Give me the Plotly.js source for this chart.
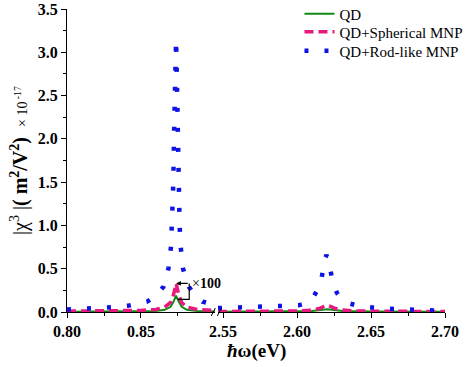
<!DOCTYPE html>
<html>
<head>
<meta charset="utf-8">
<script src="https://cdn.plot.ly/plotly-3.0.1.min.js"></script>
<style>html,body{margin:0;padding:0;background:#fff;}#chart{width:474px;height:367px;}</style>
</head>
<body>
<div id="chart"></div>
<script>
// ---- data ----
var seriesNames = ["QD", "QD+Spherical MNP", "QD+Rod-like MNP"];

// left segment (0.80 - 0.90 eV)
var qdXL = [0.800, 0.840, 0.860, 0.866, 0.870, 0.872, 0.8737, 0.8755, 0.8775, 0.881, 0.888, 0.900];
var qdYL = [0.004, 0.006, 0.012, 0.025, 0.06, 0.12, 0.19, 0.12, 0.06, 0.025, 0.012, 0.006];
var sphXL = [0.800, 0.830, 0.850, 0.860, 0.866, 0.870, 0.872, 0.8737, 0.8755, 0.8775, 0.881, 0.888, 0.900];
var sphYL = [0.010, 0.012, 0.018, 0.030, 0.055, 0.11, 0.20, 0.33, 0.20, 0.11, 0.055, 0.030, 0.018];
var rodXL = [0.800, 0.815, 0.830, 0.842, 0.854, 0.860, 0.8651, 0.8675, 0.8686, 0.8703, 0.8710, 0.8718, 0.8725, 0.8730, 0.8737, 0.8742, 0.8747, 0.8754, 0.8761, 0.8768, 0.8783, 0.8797, 0.8824, 0.8870, 0.8916, 0.900];
var rodYL = [0.030, 0.040, 0.055, 0.075, 0.12, 0.18, 0.29, 0.42, 0.51, 0.76, 1.00, 1.47, 2.20, 2.75, 3.15, 2.75, 2.20, 1.47, 1.00, 0.76, 0.51, 0.42, 0.29, 0.18, 0.12, 0.085];

// right segment (2.55 - 2.70 eV)
var qdXR = [2.5466, 2.600, 2.610, 2.616, 2.6205, 2.625, 2.631, 2.650, 2.700];
var qdYR = [0.003, 0.006, 0.012, 0.022, 0.032, 0.022, 0.012, 0.006, 0.003];
var sphXR = [2.5466, 2.580, 2.600, 2.610, 2.615, 2.618, 2.6205, 2.623, 2.626, 2.631, 2.640, 2.660, 2.700];
var sphYR = [0.006, 0.008, 0.012, 0.022, 0.040, 0.062, 0.078, 0.062, 0.040, 0.022, 0.012, 0.008, 0.006];
var rodXR = [2.5466, 2.558, 2.5716, 2.5863, 2.6009, 2.606, 2.611, 2.6145, 2.6167, 2.6189, 2.6200, 2.6218, 2.6241, 2.627, 2.6295, 2.635, 2.6426, 2.6568, 2.6707, 2.6843, 2.700];
var rodYR = [0.045, 0.050, 0.057, 0.065, 0.077, 0.10, 0.17, 0.28, 0.40, 0.62, 0.66, 0.56, 0.34, 0.22, 0.16, 0.10, 0.066, 0.042, 0.030, 0.020, 0.012];

var xTicksL = [0.80, 0.85];
var xMinorL = [0.825, 0.875];
var xTicksR = [2.55, 2.60, 2.65, 2.70];
var xMinorR = [2.575, 2.625, 2.675];

// ---- styles ----
var cGreen = "#138a13", cPink = "#e8197d", cBlue = "#0f12e6";
var serif = "Liberation Serif, Times New Roman, serif";
var lineQD = {color: cGreen, width: 2};
var lineSph = {color: cPink, width: 3.5, dash: "9px,5px"};
var lineRod = {color: cBlue, width: 4.5, dash: "4px,16px"};

var traces = [
  {x: qdXL, y: qdYL, xaxis: "x", yaxis: "y", mode: "lines", line: lineQD, name: seriesNames[0], legend: "legend"},
  {x: sphXL, y: sphYL, xaxis: "x", yaxis: "y", mode: "lines", line: lineSph, name: seriesNames[1], legend: "legend2"},
  {x: rodXL, y: rodYL, xaxis: "x", yaxis: "y", mode: "lines", line: lineRod, name: seriesNames[2], legend: "legend3"},
  {x: qdXR, y: qdYR, xaxis: "x2", yaxis: "y", mode: "lines", line: lineQD, name: seriesNames[0], showlegend: false},
  {x: sphXR, y: sphYR, xaxis: "x2", yaxis: "y", mode: "lines", line: lineSph, name: seriesNames[1], showlegend: false},
  {x: rodXR, y: rodYR, xaxis: "x2", yaxis: "y", mode: "lines", line: lineRod, name: seriesNames[2], showlegend: false}
];

var xTickFont = {family: serif, size: 16, color: "#000", weight: "bold"};
var yTickFont = {family: serif, size: 16, color: "#000", weight: "bold"};
var axCommon = {
  showline: true, linecolor: "#000", linewidth: 1, showgrid: false, zeroline: false,
  ticks: "outside", ticklen: 5, tickcolor: "#000", tickwidth: 1, ticklabeloverflow: "allow",
  tickfont: xTickFont, tickformat: ".2f", tickmode: "array"
};

function legendAt(yc) {
  return {
    x: 0.615, y: yc, xanchor: "left", yanchor: "middle",
    font: {family: serif, size: 15, color: "#000"},
    bgcolor: "rgba(0,0,0,0)", borderwidth: 0
  };
}

var layout = {
  width: 474, height: 367,
  margin: {l: 67, r: 29, t: 9, b: 55, autoexpand: false},
  paper_bgcolor: "#fff", plot_bgcolor: "#fff",
  showlegend: true,
  legend: legendAt(0.9835),
  legend2: legendAt(0.924),
  legend3: legendAt(0.861),
  xaxis: Object.assign({}, axCommon, {
    domain: [0, 0.3915], range: [0.80, 0.90], tickvals: xTicksL, anchor: "y",
    minor: {tickvals: xMinorL, ticks: "outside", ticklen: 3, tickcolor: "#000"}
  }),
  xaxis2: Object.assign({}, axCommon, {
    domain: [0.3995, 1], range: [2.5466, 2.70], tickvals: xTicksR, anchor: "y",
    minor: {tickvals: xMinorR, ticks: "outside", ticklen: 3, tickcolor: "#000"}
  }),
  yaxis: {
    range: [0, 3.5], domain: [0, 1], showline: true, linecolor: "#000", linewidth: 1,
    showgrid: false, zeroline: false, ticks: "outside", ticklen: 5, tickcolor: "#000",
    ticklabeloverflow: "allow",
    dtick: 0.5, tick0: 0, tickformat: ".1f", tickfont: yTickFont,
    minor: {dtick: 0.25, ticks: "outside", ticklen: 3, tickcolor: "#000"},
    title: {
      text: "|χ<sup>3</sup> |<b>( m<sup>2</sup>/V<sup>2</sup>)</b>  <span style='font-size:14px'>× 10<sup> -17</sup></span>",
      font: {family: serif, size: 20, color: "#000"}, standoff: 4
    }
  },
  annotations: [
    {xref: "paper", yref: "paper", x: 0.5, y: -0.13, xanchor: "center", yanchor: "middle",
     text: "<b><i>ħ</i>ω(eV)</b>", showarrow: false, font: {family: serif, size: 19, color: "#000"}},
    {xref: "x", yref: "y", x: 0.8737, y: 0.33, ax: 0.8826, ay: 0.33, axref: "x", ayref: "y",
     showarrow: true, arrowhead: 2, arrowsize: 0.8, arrowwidth: 1.2, arrowcolor: "#000", text: ""},
    {xref: "x", yref: "y", x: 0.8832, y: 0.33, xanchor: "left", yanchor: "middle",
     text: "×<b>100</b>", showarrow: false, font: {family: serif, size: 14, color: "#000"}}
  ],
  shapes: [
    {type: "path", xref: "x", yref: "y", path: "M0.8826,0.33 L0.8826,0.146 L0.8747,0.146",
     line: {color: "#000", width: 1.2}},
    {type: "line", xref: "paper", yref: "paper", xsizemode: "pixel", ysizemode: "pixel",
     xanchor: 0.387, yanchor: 0, x0: -2, x1: 2, y0: -4, y1: 4, line: {color: "#000", width: 1}},
    {type: "line", xref: "paper", yref: "paper", xsizemode: "pixel", ysizemode: "pixel",
     xanchor: 0.403, yanchor: 0, x0: -2, x1: 2, y0: -4, y1: 4, line: {color: "#000", width: 1}}
  ]
};

Plotly.newPlot("chart", traces, layout, {displayModeBar: false, staticPlot: true});
</script>
</body>
</html>
